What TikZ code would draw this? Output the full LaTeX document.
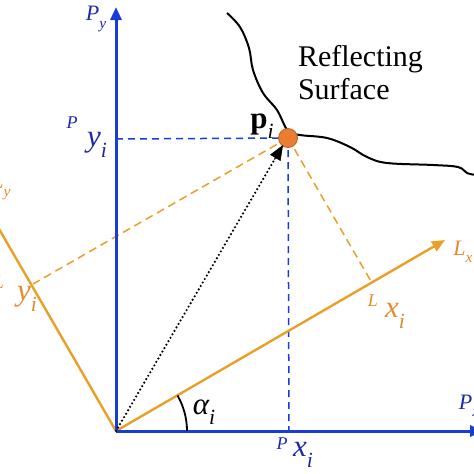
\documentclass[tikz,border=0pt]{standalone}
\usepackage{fontspec}
\newfontfamily\labelfont{Liberation Serif}
\usetikzlibrary{arrows.meta}
\newcommand\labsub[2]{#1\raisebox{-0.34em}{\scalebox{0.7}{#2}}}
\definecolor{axblue}{RGB}{25,60,215}
\definecolor{txblue}{RGB}{30,40,170}
\definecolor{axorange}{RGB}{232,160,40}
\definecolor{txorange}{RGB}{225,140,45}
\definecolor{ptfill}{RGB}{235,125,50}
\definecolor{ptdraw}{RGB}{190,95,30}
\tikzset{
  blueaxis/.style={draw=axblue, line width=3pt, -{Triangle[length=13pt,width=11pt]}},
  orangeaxis/.style={draw=axorange, line width=2.4pt, -{Triangle[length=13pt,width=11pt]}},
  bluedash/.style={draw=axblue, line width=1.5pt, dash pattern=on 7pt off 5pt},
  orangedash/.style={draw=axorange, line width=1.5pt, dash pattern=on 8pt off 5pt},
  lbl/.style={inner sep=0pt, outer sep=0pt},
  bluelbl/.style={lbl, text=txblue},
  orangelbl/.style={lbl, text=txorange},
  big/.style={font=\labelfont\itshape\fontsize{31}{31}\selectfont},
  small/.style={font=\labelfont\itshape\fontsize{18}{18}\selectfont},
  mid/.style={font=\labelfont\itshape\fontsize{22}{22}\selectfont},
}
\begin{document}
\begin{tikzpicture}[x=1pt,y=-1pt]
\useasboundingbox (0,0) rectangle (474,474);
\clip (0,0) rectangle (474,474);
% key points
\coordinate (O) at (116,431);
\coordinate (pyend) at (116,7);
\coordinate (pxend) at (483,431);
\coordinate (lxend) at (445,240);
\coordinate (lyend) at (-60,127);
\coordinate (pc) at (288,138);
\coordinate (pyi) at (116,139);
\coordinate (pxi) at (289,431);
\coordinate (lxi) at (372,283);
\coordinate (lyi) at (33,284);
\coordinate (tip) at (283,145);
% reflecting surface
\draw[line width=2pt, black] plot[smooth, tension=0.6] coordinates {
 (227,13) (240,27) (249,48) (253,70) (263,93) (277,110) (288,131) (300,135)
 (327,138) (350,147) (367,157) (387,163) (433,165) (458,167) (467,173) (476,175)};
\node[lbl, anchor=north west, align=left, font=\labelfont\fontsize{30}{33}\selectfont] (surf) at (298,45) {Reflecting\\Surface};
% dashed projections
\draw[bluedash] (pyi) -- (pc);
\draw[bluedash] (pc) -- (pxi);
\draw[orangedash] (pc) -- (lxi);
\draw[orangedash] (pc) -- (lyi);
% point
\node[circle, fill=ptfill, draw=ptdraw, line width=0.8pt, minimum size=19pt, inner sep=0pt] (p) at (pc) {};
% axes
\draw[orangeaxis] (O) -- (lxend);
\draw[orangeaxis] (O) -- (lyend);
\draw[blueaxis] (O) -- (pyend);
\draw[blueaxis] (O) -- (pxend);
% angle arc
\draw[line width=1.8pt, black] (187,431) arc[start angle=0, end angle=30, radius=71pt];
% dotted position vector
\draw[line width=2.4pt, black, dash pattern=on 0pt off 4pt, line cap=round] (O) -- (276,157);
\draw[black, line width=0.5pt, -{Triangle[length=15pt,width=12pt]}] (274,160) -- (tip);
% labels
\node[bluelbl, mid] (lpy) at (96,19) {\labsub{P}{y}};
\node[bluelbl, mid] (lpx) at (469,406) {\labsub{P}{x}};
\node[bluelbl, small] (lpyiP) at (72,123) {P};
\node[bluelbl, big] (lpyi) at (97,145) {\labsub{y}{i}};
\node[bluelbl, small] (lpxiP) at (282,444) {P};
\node[bluelbl, big] (lpxi) at (303,455) {\labsub{x}{i}};
\node[orangelbl, mid] (llx) at (463,252) {\labsub{L}{x}};
\node[orangelbl, mid] (lly) at (1,187) {\labsub{L}{y}};
\node[orangelbl, small] (llxiL) at (373,301) {L};
\node[orangelbl, big] (llxi) at (395,316) {\labsub{x}{i}};
\node[orangelbl, small] (llyiL) at (-1,283) {L};
\node[orangelbl, big] (llyi) at (27,299) {\labsub{y}{i}};
\node[lbl, big, text=black] (alpha) at (204,412) {\labsub{α}{i}};
\node[lbl, big, text=black] (plbl) at (262,126) {\labsub{{\upshape\bfseries p}}{i}};
\end{tikzpicture}
\end{document}
